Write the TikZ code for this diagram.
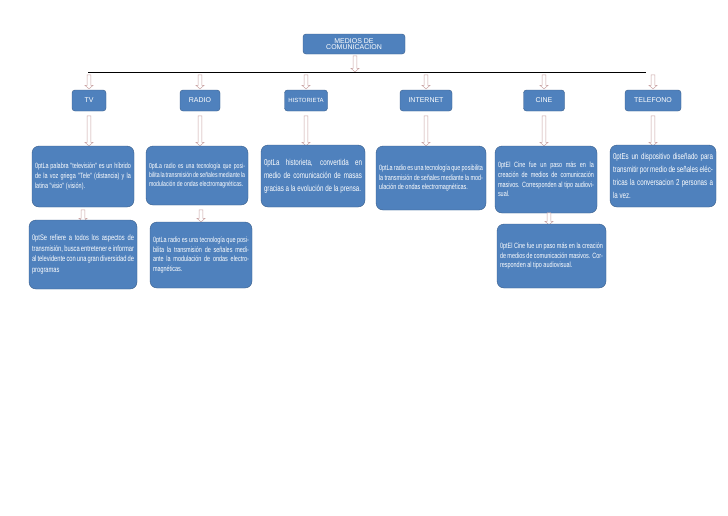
\documentclass[tikz,border=0pt]{standalone}
\usepackage{fontspec}
\setmainfont{Liberation Sans}
\newfontfamily\cond[FakeStretch=0.72]{Liberation Sans}
\usetikzlibrary{shapes.arrows}
\definecolor{bfill}{HTML}{4F81BD}
\definecolor{bdraw}{HTML}{385D8A}
\definecolor{arr}{HTML}{C9A3A3}
\tikzset{
 box/.style={draw=bdraw,fill=bfill,rounded corners=3pt,text=white,font=\fontsize{7}{8}\selectfont,inner sep=1pt},
 tbox/.style={draw=bdraw,fill=bfill,rounded corners=7pt,text=white,font=\cond\fontsize{7.6}{9.6}\selectfont\hyphenpenalty=10000\exhyphenpenalty=10000,align=justify,inner xsep=3pt,inner ysep=2pt},
 darr/.style={single arrow,draw=arr,fill=white,line width=0.5pt,shape border rotate=270,minimum width=8pt,single arrow head extend=1.5pt,single arrow tip angle=100,inner sep=1pt,anchor=center}
}
\begin{document}
\begin{tikzpicture}[x=1pt,y=-1pt]
\useasboundingbox (0,0) rectangle (728,515);
\fill[white] (0,0) rectangle (728,515);
% title
\node[box,minimum width=102pt,minimum height=20pt,align=center,inner sep=0pt] (title) at (354,44) {MEDIOS DE\\[-2pt]COMUNICACION};
\node[darr,minimum height=16pt] (at) at (355,63) {};
\coordinate (lL) at (88,72); \coordinate (lR) at (646,72);
\draw[line width=0.8pt] (lL) -- (lR);
% level 1
\foreach \n/\x/\w/\t in {tv/89/34/TV, radio/200/40/RADIO, hist/306/43/{\fontsize{6}{7}\selectfont HISTORIETA}, inet/426/52/INTERNET, cine/544/41/CINE, tel/653/56/TELEFONO}{
  \node[darr,minimum height=14pt] (a1\n) at (\x,81) {};
  \node[box,minimum width=\w pt,minimum height=21pt] (\n) at (\x,100.5) {\t};
  \node[darr,minimum height=30pt] (a2\n) at (\x,130) {};
}
% level 2
\node[tbox,text width=96pt,minimum height=61pt] (tv2) at (83,176.5) {La palabra "televisión" es un híbrido de la voz griega "Tele" (distancia) y la latina "visio" (visión).};
\node[tbox,text width=96pt,minimum height=59pt,font=\cond\fontsize{7.2}{9}\selectfont\hyphenpenalty=10000] (radio2) at (197,175.5) {La radio es una tecnología que posibilita la transmisión de señales mediante la modulación de ondas electromagnéticas.};
\node[tbox,text width=98pt,minimum height=62pt,font=\cond\fontsize{8.6}{13}\selectfont\hyphenpenalty=10000] (hist2) at (313,176) {La historieta, convertida en medio de comunicación de masas gracias a la evolución de la prensa.};
\node[tbox,text width=104pt,minimum height=64pt] (inet2) at (431,178) {La radio es una tecnología que posibilita la transmisión de señales mediante la modulación de ondas electromagnéticas.};
\node[tbox,text width=96pt,minimum height=67pt] (cine2) at (546,179.5) {El Cine fue un paso más en la creación de medios de comunicación masivos. Corresponden al tipo audiovisual.};
\node[tbox,text width=100pt,minimum height=62pt,font=\cond\fontsize{8.6}{13}\selectfont\hyphenpenalty=10000] (tel2) at (663,176) {Es un dispositivo diseñado para transmitir por medio de señales eléctricas la conversacion 2 personas a la vez.};
% level 3
\node[darr,minimum height=12pt] (a3tv) at (83,215) {};
\node[darr,minimum height=12pt] (a3radio) at (201,215) {};
\node[darr,minimum height=12pt] (a3cine) at (549,218) {};
\node[tbox,text width=102pt,minimum height=69pt,font=\cond\fontsize{8}{10.8}\selectfont\hyphenpenalty=10000] (tv3) at (83,254.5) {Se refiere a todos los aspectos de transmisión, busca entretener e informar al televidente con una gran diversidad de programas};
\node[tbox,text width=96pt,minimum height=66pt] (radio3) at (201,255) {La radio es una tecnología que posibilita la transmisión de señales mediante la modulación de ondas electromagnéticas.};
\node[tbox,text width=103pt,minimum height=64pt] (cine3) at (551.5,256) {El Cine fue un paso más en la creación de medios de comunicación masivos. Corresponden al tipo audiovisual.};
\end{tikzpicture}
\end{document}
